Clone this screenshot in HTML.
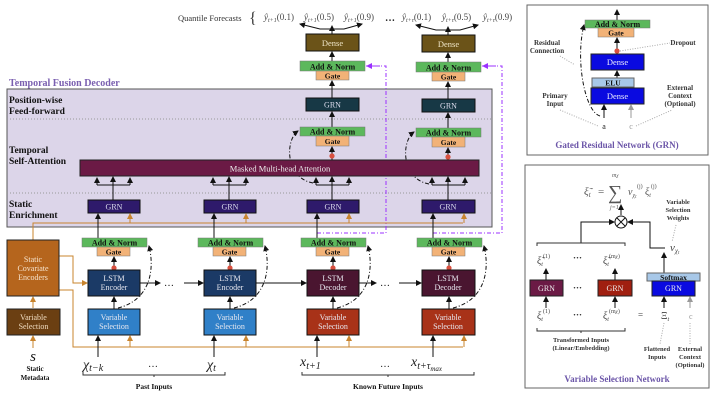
<!DOCTYPE html>
<html><head><meta charset="utf-8"><style>
html,body{margin:0;padding:0;background:#fff;width:720px;height:400px;overflow:hidden}
svg{display:block}
text{font-family:"Liberation Serif",serif}
</style></head><body>
<svg width="720" height="400" viewBox="0 0 720 400" xmlns="http://www.w3.org/2000/svg">
<defs>
<marker id="a" markerWidth="6" markerHeight="6" refX="5" refY="3" orient="auto" markerUnits="userSpaceOnUse"><path d="M0,0 L6,3 L0,6 z" fill="#111"/></marker>
<marker id="ao" markerWidth="6" markerHeight="6" refX="5" refY="3" orient="auto" markerUnits="userSpaceOnUse"><path d="M0,0 L6,3 L0,6 z" fill="#c8842e"/></marker>
<marker id="ap" markerWidth="6" markerHeight="6" refX="5" refY="3" orient="auto" markerUnits="userSpaceOnUse"><path d="M0,0 L6,3 L0,6 z" fill="#9b30ff"/></marker>
<marker id="ag" markerWidth="6" markerHeight="6" refX="5" refY="3" orient="auto" markerUnits="userSpaceOnUse"><path d="M0,0 L6,3 L0,6 z" fill="#999"/></marker>
</defs>

<!-- Quantile forecasts -->
<text x="178" y="21" font-size="8.5" fill="#333">Quantile Forecasts</text>
<text x="249" y="23" font-size="16" fill="#333">{</text>
<g font-size="9" fill="#444" font-style="italic">
<text x="264" y="20">ŷ<tspan font-size="6" dy="2">t+1</tspan><tspan dy="-2" font-style="normal">(0.1)</tspan></text>
<text x="304" y="20">ŷ<tspan font-size="6" dy="2">t+1</tspan><tspan dy="-2" font-style="normal">(0.5)</tspan></text>
<text x="344" y="20">ŷ<tspan font-size="6" dy="2">t+1</tspan><tspan dy="-2" font-style="normal">(0.9)</tspan></text>
<text x="402" y="20">ŷ<tspan font-size="6" dy="2">t+τ</tspan><tspan dy="-2" font-style="normal">(0.1)</tspan></text>
<text x="442" y="20">ŷ<tspan font-size="6" dy="2">t+τ</tspan><tspan dy="-2" font-style="normal">(0.5)</tspan></text>
<text x="483" y="20">ŷ<tspan font-size="6" dy="2">t+τ</tspan><tspan dy="-2" font-style="normal">(0.9)</tspan></text>
</g>
<text x="385" y="21" font-size="10" font-weight="bold" fill="#222">…</text>

<!-- Temporal fusion decoder -->
<text x="9" y="86" font-size="10" font-weight="bold" fill="#7a5fb0">Temporal Fusion Decoder</text>
<rect x="7" y="89" width="485" height="138" fill="#dcd5e9" stroke="#555" stroke-width="1"/>
<line x1="7" y1="119" x2="492" y2="119" stroke="#999" stroke-dasharray="1,2"/>
<line x1="7" y1="193" x2="492" y2="193" stroke="#999" stroke-dasharray="1,2"/>
<g font-size="9.5" font-weight="bold" fill="#111">
<text x="9" y="103">Position-wise</text><text x="9" y="114">Feed-forward</text>
<text x="9" y="153">Temporal</text><text x="9" y="164">Self-Attention</text>
<text x="9" y="207">Static</text><text x="9" y="218">Enrichment</text>
</g>

<!-- purple skip lines -->
<path d="M366,66 L386,66 L386,233 L317,233 L317,227" fill="none" stroke="#9b30ff" stroke-width="1" stroke-dasharray="4,2,1,2"/>
<path d="M482,66 L502,66 L502,233 L433,233 L433,227" fill="none" stroke="#9b30ff" stroke-width="1" stroke-dasharray="4,2,1,2"/>
<line x1="380" y1="66" x2="367" y2="66" stroke="#9b30ff" marker-end="url(#ap)"/>
<line x1="496" y1="66" x2="483" y2="66" stroke="#9b30ff" marker-end="url(#ap)"/>

<!-- columns top -->
<g id="top1">
<line x1="332" y1="34" x2="332" y2="26" stroke="#111" marker-end="url(#a)"/>
<path d="M332,29 L320,29 L300,24" fill="none" stroke="#111" marker-end="url(#a)"/>
<path d="M332,29 L344,29 L362,24" fill="none" stroke="#111" marker-end="url(#a)"/>
<rect x="306" y="34" width="53" height="17" fill="#6b5318" stroke="#111"/>
<text x="332.5" y="46" font-size="8.5" fill="#f0e6c8" text-anchor="middle">Dense</text>
<line x1="332" y1="61" x2="332" y2="52" stroke="#111" marker-end="url(#a)"/>
<rect x="300" y="61" width="65" height="10" fill="#5cb85c" stroke="#777" stroke-width=".5"/>
<text x="332.5" y="69.5" font-size="8" font-weight="bold" fill="#111" text-anchor="middle">Add &amp; Norm</text>
<rect x="316" y="71" width="33" height="9" fill="#f2b277" stroke="#777" stroke-width=".5"/>
<text x="332.5" y="78.5" font-size="7.5" font-weight="bold" fill="#111" text-anchor="middle">Gate</text>
<line x1="332" y1="98" x2="332" y2="81" stroke="#111" marker-end="url(#a)"/>
<rect x="306" y="98" width="53" height="13" fill="#173845" stroke="#111"/>
<text x="332.5" y="107.5" font-size="8" fill="#dde" text-anchor="middle">GRN</text>
<line x1="332" y1="127" x2="332" y2="112" stroke="#111" marker-end="url(#a)"/>
<rect x="300" y="127" width="65" height="9" fill="#5cb85c" stroke="#777" stroke-width=".5"/>
<text x="332.5" y="134.5" font-size="8" font-weight="bold" fill="#111" text-anchor="middle">Add &amp; Norm</text>
<rect x="316" y="136" width="33" height="10" fill="#f2b277" stroke="#777" stroke-width=".5"/>
<text x="332.5" y="144" font-size="7.5" font-weight="bold" fill="#111" text-anchor="middle">Gate</text>
<line x1="332" y1="160" x2="332" y2="147" stroke="#111" marker-end="url(#a)"/>
<circle cx="332" cy="156" r="2.6" fill="#d9503f"/>
<path d="M313,183 C285,178 285,140 298,131" fill="none" stroke="#111" stroke-dasharray="4,2,1,2" marker-end="url(#a)"/>
</g>
<use href="#top1" transform="translate(116,1)"/>

<!-- MHA -->
<rect x="80" y="160" width="399" height="16" fill="#6b1a45" stroke="#222"/>
<text x="280" y="171.5" font-size="8.5" fill="#eee" text-anchor="middle">Masked Multi-head Attention</text>
<g stroke="#111" fill="none">
<g id="tri">
<line x1="113" y1="200" x2="113" y2="177" marker-end="url(#a)"/>
<path d="M97,185 L97,178" marker-end="url(#a)"/><path d="M130,185 L130,178" marker-end="url(#a)"/>
<line x1="97" y1="185" x2="130" y2="185"/>
</g>
<use href="#tri" transform="translate(116,0)"/>
<use href="#tri" transform="translate(219,0)"/>
<use href="#tri" transform="translate(335,0)"/>
</g>

<!-- static enrichment GRNs -->
<g fill="#2e1a6b" stroke="#111">
<rect x="88" y="200" width="52" height="13"/><rect x="204" y="200" width="52" height="13"/>
<rect x="307" y="200" width="52" height="13"/><rect x="422" y="200" width="53" height="13"/>
</g>
<g font-size="8" fill="#dde" text-anchor="middle">
<text x="114" y="209.5">GRN</text><text x="230" y="209.5">GRN</text><text x="333" y="209.5">GRN</text><text x="448" y="209.5">GRN</text>
</g>
<!-- static orange line -->
<g stroke="#c8842e" fill="none" stroke-width="1">
<path d="M33,240 L33,223 L463,223"/>
<line x1="130" y1="223" x2="130" y2="214" marker-end="url(#ao)"/>
<line x1="246" y1="223" x2="246" y2="214" marker-end="url(#ao)"/>
<line x1="349" y1="223" x2="349" y2="214" marker-end="url(#ao)"/>
<line x1="464" y1="223" x2="464" y2="214" marker-end="url(#ao)"/>
<path d="M59,256 L73,256 L73,283 L87,283" marker-end="url(#ao)"/>
<path d="M59,290 L73,290 L73,347 L463,347"/>
<line x1="130" y1="347" x2="130" y2="336" marker-end="url(#ao)"/>
<line x1="246" y1="347" x2="246" y2="336" marker-end="url(#ao)"/>
<line x1="349" y1="347" x2="349" y2="336" marker-end="url(#ao)"/>
<line x1="464" y1="347" x2="464" y2="336" marker-end="url(#ao)"/>
<line x1="33" y1="308" x2="33" y2="297" marker-end="url(#ao)"/>
<line x1="33" y1="348" x2="33" y2="336" marker-end="url(#ao)"/>
</g>

<!-- static covariate encoders -->
<rect x="7" y="240" width="52" height="56" fill="#b5651d" stroke="#222"/>
<g font-size="8" fill="#f6e3cc" text-anchor="middle">
<text x="33" y="262">Static</text><text x="33" y="271">Covariate</text><text x="33" y="280">Encoders</text>
</g>
<rect x="7" y="309" width="53" height="26" fill="#6b3f12" stroke="#222"/>
<g font-size="8" fill="#f0dcc0" text-anchor="middle"><text x="33.5" y="320">Variable</text><text x="33.5" y="329">Selection</text></g>
<text x="33" y="361" font-size="15" font-style="italic" text-anchor="middle" fill="#111">s</text>
<g font-size="7" font-weight="bold" text-anchor="middle" fill="#111"><text x="35" y="371">Static</text><text x="35" y="380">Metadata</text></g>

<!-- lower columns -->
<g id="low1">
<line x1="98" y1="238" x2="98" y2="214" stroke="#111" marker-end="url(#a)"/>
<rect x="82" y="238" width="65" height="9" fill="#5cb85c" stroke="#777" stroke-width=".5"/>
<text x="114.5" y="245.5" font-size="8" font-weight="bold" fill="#111" text-anchor="middle">Add &amp; Norm</text>
<rect x="97" y="247" width="33" height="9" fill="#f2b277" stroke="#777" stroke-width=".5"/>
<text x="113.5" y="254.5" font-size="7.5" font-weight="bold" fill="#111" text-anchor="middle">Gate</text>
<line x1="114" y1="270" x2="114" y2="257" stroke="#111" marker-end="url(#a)"/>
<circle cx="114" cy="268" r="2.6" fill="#d9503f"/>
<line x1="114" y1="309" x2="114" y2="297" stroke="#111" marker-end="url(#a)"/>
<path d="M118,308 C150,300 155,270 149,246" fill="none" stroke="#111" stroke-dasharray="4,2,1,2" marker-end="url(#a)"/>
<line x1="98" y1="357" x2="98" y2="336" stroke="#111" marker-end="url(#a)"/>
</g>
<use href="#low1" transform="translate(116,0)"/>
<use href="#low1" transform="translate(219,0)"/>
<use href="#low1" transform="translate(335,0)"/>

<g stroke="#111">
<rect x="88" y="270" width="52" height="26" fill="#1b3a66"/><rect x="204" y="270" width="52" height="26" fill="#1b3a66"/>
<rect x="307" y="270" width="52" height="26" fill="#4a1530"/><rect x="422" y="270" width="53" height="26" fill="#4a1530"/>
<rect x="88" y="309" width="52" height="26" fill="#3080c8"/><rect x="204" y="309" width="52" height="26" fill="#3080c8"/>
<rect x="307" y="309" width="52" height="26" fill="#a83218"/><rect x="422" y="309" width="53" height="26" fill="#a83218"/>
</g>
<g font-size="8" fill="#e8e8f0" text-anchor="middle">
<text x="114" y="281">LSTM</text><text x="114" y="290">Encoder</text>
<text x="230" y="281">LSTM</text><text x="230" y="290">Encoder</text>
<text x="333" y="281">LSTM</text><text x="333" y="290">Decoder</text>
<text x="448" y="281">LSTM</text><text x="448" y="290">Decoder</text>
<text x="114" y="320">Variable</text><text x="114" y="329">Selection</text>
<text x="230" y="320">Variable</text><text x="230" y="329">Selection</text>
<text x="333" y="320">Variable</text><text x="333" y="329">Selection</text>
<text x="448" y="320">Variable</text><text x="448" y="329">Selection</text>
</g>
<g stroke="#111" fill="none">
<line x1="140" y1="283" x2="160" y2="283" marker-end="url(#a)"/>
<line x1="184" y1="283" x2="203" y2="283" marker-end="url(#a)"/>
<line x1="256" y1="283" x2="306" y2="283" marker-end="url(#a)"/>
<line x1="359" y1="283" x2="376" y2="283" marker-end="url(#a)"/>
<line x1="399" y1="283" x2="421" y2="283" marker-end="url(#a)"/>
</g>
<text x="164" y="286" font-size="10" fill="#111">…</text>
<text x="380" y="286" font-size="10" fill="#111">…</text>

<!-- inputs -->
<g font-size="14" font-style="italic" fill="#222">
<text x="83" y="369">χ<tspan font-size="10" dy="2">t−k</tspan></text>
<text x="207" y="369">χ<tspan font-size="10" dy="2">t</tspan></text>
<text x="300" y="366">x<tspan font-size="10" dy="3">t+1</tspan></text>
<text x="411" y="366">x<tspan font-size="10" dy="3">t+τ</tspan><tspan font-size="7" dy="2">max</tspan></text>
</g>
<text x="148" y="367" font-size="10" fill="#222">…</text>
<text x="380" y="367" font-size="10" fill="#222">…</text>
<path d="M83,372 L83,375 L225,375 L225,372 M154,375 L154,377" fill="none" stroke="#333"/>
<path d="M302,372 L302,375 L474,375 L474,372 M388,375 L388,377" fill="none" stroke="#333"/>
<text x="154" y="389" font-size="7.5" font-weight="bold" text-anchor="middle" fill="#111">Past Inputs</text>
<text x="388" y="389" font-size="7.5" font-weight="bold" text-anchor="middle" fill="#111">Known Future Inputs</text>

<!-- GRN panel -->
<rect x="527" y="5" width="181" height="150" fill="#fff" stroke="#666"/>
<line x1="617" y1="20" x2="617" y2="10" stroke="#111" marker-end="url(#a)"/>
<rect x="585" y="20" width="65" height="8" fill="#5cb85c" stroke="#777" stroke-width=".5"/>
<text x="617.5" y="27" font-size="8" font-weight="bold" text-anchor="middle" fill="#111">Add &amp; Norm</text>
<rect x="598" y="28" width="36" height="9" fill="#f2b277" stroke="#777" stroke-width=".5"/>
<text x="616" y="35.5" font-size="7.5" font-weight="bold" text-anchor="middle" fill="#111">Gate</text>
<line x1="617" y1="54" x2="617" y2="38" stroke="#111" marker-end="url(#a)"/>
<circle cx="617" cy="51" r="2.6" fill="#d9503f"/>
<rect x="591" y="54" width="53" height="16" fill="#0a0ae0" stroke="#222"/>
<text x="617.5" y="65" font-size="8.5" text-anchor="middle" fill="#eef">Dense</text>
<line x1="617" y1="78" x2="617" y2="71" stroke="#111" marker-end="url(#a)"/>
<rect x="592" y="78" width="42" height="9" fill="#a8c8e8" stroke="#666"/>
<text x="613" y="85.5" font-size="7.5" font-weight="bold" text-anchor="middle" fill="#111">ELU</text>
<rect x="591" y="88" width="53" height="16" fill="#0a0ae0" stroke="#222"/>
<text x="617.5" y="99" font-size="8.5" text-anchor="middle" fill="#eef">Dense</text>
<line x1="604" y1="118" x2="604" y2="105" stroke="#111" marker-end="url(#a)"/>
<line x1="631" y1="118" x2="631" y2="105" stroke="#999" marker-end="url(#ag)"/>
<path d="M600,116 C585,112 575,60 584,25" fill="none" stroke="#111" stroke-dasharray="4,2,1,2" marker-end="url(#a)"/>
<text x="604" y="129" font-size="8" text-anchor="middle" fill="#222">a</text>
<text x="631" y="129" font-size="8" text-anchor="middle" fill="#999">c</text>
<g font-size="7" font-weight="bold" fill="#333" text-anchor="middle">
<text x="547" y="45">Residual</text><text x="547" y="53">Connection</text>
<text x="683" y="45">Dropout</text>
<text x="555" y="98">Primary</text><text x="555" y="106">Input</text>
<text x="680" y="90">External</text><text x="680" y="98">Context</text><text x="680" y="106">(Optional)</text>
</g>
<g stroke="#aaa" stroke-dasharray="1,1.5" fill="none">
<path d="M560,56 L575,65"/><path d="M620,51 L670,43"/><path d="M560,110 L598,126"/><path d="M636,126 L672,110"/>
</g>
<text x="617" y="148" font-size="9" font-weight="bold" text-anchor="middle" fill="#6b55a8">Gated Residual Network (GRN)</text>

<!-- VSN panel -->
<rect x="525" y="165" width="184" height="223" fill="#fff" stroke="#666"/>
<g font-style="italic" fill="#555">
<text x="584" y="195" font-size="11">ξ̃<tspan font-size="7" dy="2">t</tspan></text>
<text x="598" y="195" font-size="11" font-style="normal">=</text>
<text x="608" y="199" font-size="20" font-style="normal">∑</text>
<text x="612" y="177" font-size="6">m<tspan font-size="5">χ</tspan></text>
<text x="610" y="209" font-size="6">j=1</text>
<text x="628" y="195" font-size="10">v<tspan font-size="6" dy="2">χ</tspan><tspan font-size="5" dy="1">t</tspan></text>
<text x="637" y="188" font-size="6" font-style="normal">(j)</text>
<text x="645" y="195" font-size="10">ξ<tspan font-size="6" dy="2">t</tspan></text>
<text x="651" y="188" font-size="6" font-style="normal">(j)</text>
</g>
<line x1="621" y1="215" x2="621" y2="205" stroke="#111" marker-end="url(#a)"/>
<circle cx="621" cy="222" r="6" fill="#fff" stroke="#111"/>
<path d="M617,218 L625,226 M625,218 L617,226" stroke="#111"/>
<path d="M581,243 L581,222 L614,222" fill="none" stroke="#111" marker-end="url(#a)"/>
<path d="M665,248 L650,248 L650,222 L628,222" fill="none" stroke="#111" marker-end="url(#a)"/>
<path d="M537,246 L537,243 L625,243 L625,246" fill="none" stroke="#333"/>
<text x="670" y="251" font-size="11" font-style="italic" fill="#444">v<tspan font-size="7" dy="2">χ</tspan><tspan font-size="5" dy="1">t</tspan></text>
<g font-size="6.5" font-weight="bold" fill="#333" text-anchor="middle">
<text x="678" y="204">Variable</text><text x="678" y="212">Selection</text><text x="678" y="220">Weights</text>
</g>
<path d="M676,225 L672,242" stroke="#aaa" stroke-dasharray="1,1.5"/>
<g font-size="10" font-style="italic" fill="#444">
<text x="537" y="264">ξ̃<tspan font-size="6" dy="2">t</tspan><tspan font-size="6" dy="-8" font-style="normal">(1)</tspan></text>
<text x="603" y="264">ξ̃<tspan font-size="6" dy="2">t</tspan><tspan font-size="6" dy="-8" font-style="normal">(m</tspan><tspan font-size="5">χ</tspan><tspan font-size="6" font-style="normal">)</tspan></text>
<text x="537" y="319">ξ<tspan font-size="6" dy="2">t</tspan><tspan font-size="6" dy="-8" font-style="normal">(1)</tspan></text>
<text x="603" y="319">ξ<tspan font-size="6" dy="2">t</tspan><tspan font-size="6" dy="-8" font-style="normal">(m</tspan><tspan font-size="5">χ</tspan><tspan font-size="6" font-style="normal">)</tspan></text>
<text x="661" y="319" font-style="normal">Ξ<tspan font-size="6" font-style="italic" dy="2">t</tspan></text>
</g>
<text x="689" y="319" font-size="8" fill="#999">c</text>
<text x="638" y="318" font-size="9" fill="#333">=</text>
<g font-size="9" fill="#333" font-weight="bold"><text x="573" y="261">···</text><text x="573" y="291">···</text><text x="573" y="318">···</text></g>
<g stroke="#111" fill="none">
<line x1="546" y1="280" x2="546" y2="269" marker-end="url(#a)"/>
<line x1="615" y1="280" x2="615" y2="269" marker-end="url(#a)"/>
<line x1="546" y1="308" x2="546" y2="297" marker-end="url(#a)"/>
<line x1="615" y1="308" x2="615" y2="297" marker-end="url(#a)"/>
<line x1="664" y1="308" x2="664" y2="297" marker-end="url(#a)"/>
<line x1="664" y1="273" x2="664" y2="253" marker-end="url(#a)"/>
</g>
<line x1="690" y1="308" x2="690" y2="297" stroke="#999" marker-end="url(#ag)"/>
<rect x="530" y="280" width="33" height="16" fill="#6b1a45" stroke="#222"/>
<rect x="598" y="280" width="34" height="16" fill="#a01f10" stroke="#222"/>
<rect x="647" y="273" width="53" height="8" fill="#a8c8e8" stroke="#666"/>
<rect x="652" y="281" width="43" height="15" fill="#0a0ae0" stroke="#222"/>
<g font-size="8" fill="#eee" text-anchor="middle"><text x="546.5" y="291">GRN</text><text x="615" y="291">GRN</text><text x="673.5" y="291">GRN</text></g>
<text x="673.5" y="280" font-size="7.5" font-weight="bold" text-anchor="middle" fill="#111">Softmax</text>
<path d="M537,328 L537,331 L625,331 L625,328 M581,331 L581,333" fill="none" stroke="#333"/>
<g font-size="6.5" font-weight="bold" fill="#333" text-anchor="middle">
<text x="581" y="342">Transformed Inputs</text><text x="581" y="350">(Linear/Embedding)</text>
<text x="657" y="351">Flattened</text><text x="657" y="359">Inputs</text>
<text x="690" y="351">External</text><text x="690" y="359">Context</text><text x="690" y="367">(Optional)</text>
</g>
<path d="M664,323 L660,344 M690,323 L690,344" stroke="#aaa" stroke-dasharray="1,1.5"/>
<text x="617" y="382" font-size="9" font-weight="bold" text-anchor="middle" fill="#6b55a8">Variable Selection Network</text>
</svg>
</body></html>
